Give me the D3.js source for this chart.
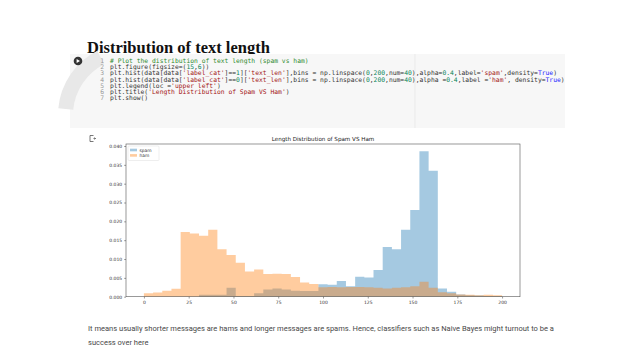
<!DOCTYPE html>
<html>
<head>
<meta charset="utf-8">
<script src="https://cdn.jsdelivr.net/npm/d3@7"></script>
<style>
  body { margin: 0; background: #fff; }
  svg { display: block; }
</style>
</head>
<body>
<script>
// histogram bins: np.linspace(0,200,num=40) -> 39 bins
var binEdges = d3.range(40).map(function(i) { return i * 200 / 39; });

// density values
var spam = [0, 0, 0, 0, 0, 0, 0.0005, 0.0005, 0.0005, 0.0024,
            0.0002, 0.0002, 0.0009, 0.0019, 0.0022, 0.0019, 0.0016, 0.0015, 0.0015, 0.0033,
            0.0032, 0.0042, 0.0028, 0.0053, 0.0051, 0.0071, 0.0132, 0.0126, 0.0178, 0.0230,
            0.0386, 0.0334, 0.0022, 0.0013, 0.0006, 0.0004, 0.0003, 0.0002, 0.0002];
var ham = [0.0009, 0.0011, 0.0016, 0.0021, 0.0172, 0.0168, 0.0162, 0.0178, 0.0126, 0.0111,
           0.0090, 0.0067, 0.0072, 0.0060, 0.0061, 0.0060, 0.0052, 0.0038, 0.0034, 0.0025,
           0.0026, 0.0025, 0.0026, 0.0026, 0.0025, 0.0024, 0.0022, 0.0024, 0.0025, 0.0028,
           0.0040, 0.0024, 0.0012, 0.0009, 0.0006, 0.0005, 0.0004, 0.0005, 0.0004];

var xTicks = [0, 25, 50, 75, 100, 125, 150, 175, 200];
var yTicks = [0, 0.005, 0.010, 0.015, 0.020, 0.025, 0.030, 0.035, 0.040];
var seriesNames = ["spam", "ham"];

var codeLines = [
  "# Plot the distribution of text length (spam vs ham)",
  "plt.figure(figsize=(15,6))",
  "plt.hist(data[data['label_cat']==1]['text_len'],bins = np.linspace(0,200,num=40),alpha=0.4,label='spam',density=True)",
  "plt.hist(data[data['label_cat']==0]['text_len'],bins = np.linspace(0,200,num=40),alpha =0.4,label ='ham', density=True)",
  "plt.legend(loc ='upper left')",
  "plt.title('Length Distribution of Spam VS Ham')",
  "plt.show()"
];
var captionLines = [
  "It means usually shorter messages are hams and longer messages are spams. Hence, classifiers such as Naive Bayes might turnout to be a",
  "success over here"
];

var svg = d3.select("body")
  .append("svg")
    .attr("width", 638)
    .attr("height", 359);

// slide title (bottom partly hidden by the code cell)
svg.append("text")
    .attr("x", 87)
    .attr("y", 53)
    .attr("font-family", "Liberation Serif")
    .attr("font-weight", "bold")
    .attr("font-size", 16.5)
    .attr("fill", "#111")
    .text("Distribution of text length");

// code cell
svg.append("rect")
    .attr("x", 70).attr("y", 54)
    .attr("width", 495).attr("height", 74)
    .attr("fill", "#f7f7f7");

// decorative grey ring on the left
svg.append("path")
    .attr("transform", "translate(130,115)")
    .attr("d", d3.arc().innerRadius(57).outerRadius(72).startAngle(-Math.PI * 0.47).endAngle(-Math.PI * 0.15)())
    .attr("fill", "#e8e8e8");

svg.append("line")
    .attr("x1", 415).attr("x2", 415).attr("y1", 54).attr("y2", 128)
    .attr("stroke", "#e4e4e4").attr("stroke-width", 0.7);

// run button
svg.append("circle").attr("cx", 78).attr("cy", 61).attr("r", 4.3).attr("fill", "#333");
svg.append("path").attr("d", "M76.6,59 L80,61 L76.6,63 Z").attr("fill", "#fff");

var code = svg.append("g")
    .attr("font-family", "DejaVu Sans Mono")
    .attr("font-size", 6.35);

codeLines.forEach(function(line, i) {
  var ly = 63 + i * 6.2;
  code.append("text")
      .attr("x", 104).attr("y", ly)
      .attr("text-anchor", "end")
      .attr("fill", "#999")
      .text(i + 1);
  var t = code.append("text").attr("x", 110).attr("y", ly).attr("xml:space", "preserve");
  if (line[0] == "#") {
    t.append("tspan").attr("fill", "#2e8b2e").text(line);
    return;
  }
  var re = /('[^']*')|(\bTrue\b)|(\b\d+(?:\.\d+)?\b)|([^'\d]+?(?=('|\bTrue\b|\b\d|$)))/g;
  var m;
  while ((m = re.exec(line)) !== null) {
    if (m[0] === "") { re.lastIndex++; continue; }
    var col = "#333";
    if (m[1]) col = "#a31515";
    else if (m[2]) col = "#1a1aff";
    else if (m[3]) col = "#098658";
    t.append("tspan").attr("fill", col).text(m[0]);
  }
});

// output icon
svg.append("path")
    .attr("d", "M90,135.5 h3.5 M90,135.5 v6 h3.5 M93.5,138.5 l2,0 l-1,-1 M95.5,138.5 l-1,1")
    .attr("fill", "none").attr("stroke", "#555").attr("stroke-width", 0.8);

// chart
var plotLeft = 126, plotRight = 520, plotTop = 144, plotBottom = 296.7;
var x = d3.scaleLinear().domain([-10, 210]).range([plotLeft, plotRight]);
var y = d3.scaleLinear().domain([0, d3.max(spam) * 1.05]).range([plotBottom, plotTop]);
var colors = { spam: "#1f77b4", ham: "#ff7f0e" };
var series = { spam: spam, ham: ham };

svg.append("text")
    .attr("x", (plotLeft + plotRight) / 2)
    .attr("y", 141)
    .attr("text-anchor", "middle")
    .attr("font-family", "DejaVu Sans")
    .attr("font-size", 5.6)
    .attr("fill", "#222")
    .text("Length Distribution of Spam VS Ham");

// each histogram as one stepped area so adjacent bins have no seams
var step = d3.area()
    .curve(d3.curveStepAfter)
    .x(function(d) { return x(d.x0); })
    .y0(plotBottom)
    .y1(function(d) { return y(d.v); });

seriesNames.forEach(function(name) {
  var vals = series[name];
  var pts = vals.map(function(v, i) { return { x0: binEdges[i], v: v }; });
  pts.push({ x0: binEdges[vals.length], v: vals[vals.length - 1] });
  svg.append("path")
      .datum(pts)
      .attr("d", step)
      .attr("fill", colors[name])
      .attr("fill-opacity", 0.4);
});

var xAxis = svg.append("g")
    .attr("transform", "translate(0," + plotBottom + ")")
    .call(d3.axisBottom(x).tickValues(xTicks).tickSize(1.8).tickPadding(2).tickFormat(d3.format("d")));
var yAxis = svg.append("g")
    .attr("transform", "translate(" + plotLeft + ",0)")
    .call(d3.axisLeft(y).tickValues(yTicks).tickSize(1.8).tickPadding(2).tickFormat(d3.format(".3f")));
[xAxis, yAxis].forEach(function(a) {
  a.select(".domain").remove();
  a.selectAll("text").attr("font-family", "DejaVu Sans").attr("font-size", 4.5).attr("fill", "#333");
  a.selectAll("line").attr("stroke", "#333").attr("stroke-width", 0.5);
});

svg.append("rect")
    .attr("x", plotLeft).attr("y", plotTop)
    .attr("width", plotRight - plotLeft).attr("height", plotBottom - plotTop)
    .attr("fill", "none").attr("stroke", "#555").attr("stroke-width", 0.6);

// legend
var legend = svg.append("g");
legend.append("rect")
    .attr("x", 128).attr("y", 146)
    .attr("width", 31).attr("height", 14.5)
    .attr("rx", 1)
    .attr("fill", "#fff").attr("stroke", "#ddd").attr("stroke-width", 0.5);
seriesNames.forEach(function(name, i) {
  legend.append("rect")
      .attr("x", 130).attr("y", 148.7 + i * 5.4)
      .attr("width", 7).attr("height", 2.6)
      .attr("fill", colors[name]).attr("fill-opacity", 0.4);
  legend.append("text")
      .attr("x", 139.5).attr("y", 151.5 + i * 5.4)
      .attr("font-family", "DejaVu Sans")
      .attr("font-size", 4.4)
      .attr("fill", "#333")
      .text(name);
});

// caption under the chart
var cap = svg.append("g")
    .attr("font-family", "Roboto")
    .attr("font-size", 8)
    .attr("fill", "#484848");
var first = cap.append("text").attr("x", 88).attr("y", 331).text(captionLines[0]);
var w = first.node().getComputedTextLength();
cap.attr("font-size", 8 * 467 / w);
cap.append("text").attr("x", 88).attr("y", 345).text(captionLines[1]);
</script>
</body>
</html>
